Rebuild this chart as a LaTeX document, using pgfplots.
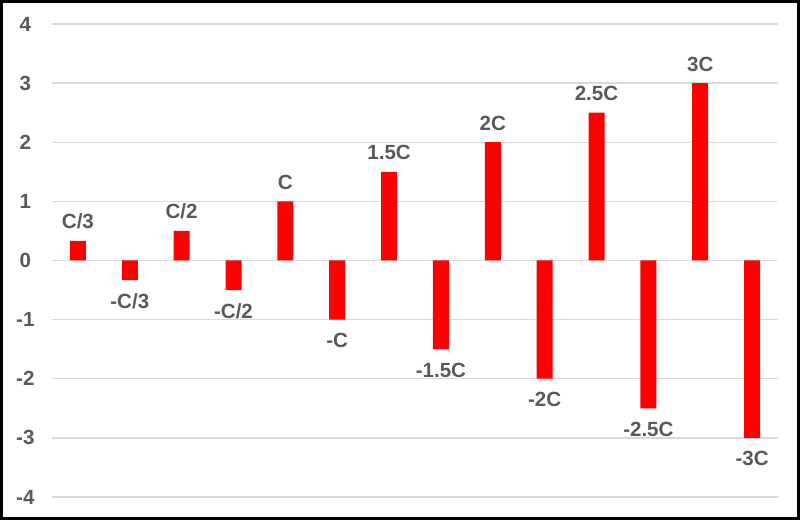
\documentclass[border=0pt]{standalone}
\usepackage{pgfplots}
\pgfplotsset{compat=1.18}
\usepackage{pgfplotstable}
\usepackage{fontspec}
\setmainfont{Liberation Sans}
\definecolor{txt}{HTML}{595959}
\definecolor{gridc}{HTML}{D9D9D9}
\definecolor{barred}{HTML}{FF0000}
\pgfplotstableread{
x y lab
0 0.3333 C/3
2 0.5 C/2
4 1 C
6 1.5 1.5C
8 2 2C
10 2.5 2.5C
12 3 3C
}\postab
\pgfplotstableread{
x y lab
1 -0.3333 -C/3
3 -0.5 -C/2
5 -1 -C
7 -1.5 -1.5C
9 -2 -2C
11 -2.5 -2.5C
13 -3 -3C
}\negtab
\begin{document}
\begin{tikzpicture}
\useasboundingbox (0pt,0pt) rectangle (600pt,390pt);
\draw[line width=2.25pt, black] (1.125pt,1.125pt) rectangle (598.875pt,388.875pt);
\begin{axis}[
  at={(39pt,17.25pt)}, anchor=south west,
  scale only axis, width=544.5pt, height=354.75pt,
  xmin=-0.5, xmax=13.5, ymin=-4, ymax=4,
  ytick={-4,-3,-2,-1,0,1,2,3,4},
  yticklabels={-4,-3,-2,-1,0,1,2,3,4},
  xtick=\empty,
  ymajorgrids, major grid style={gridc, line width=1.1pt},
  axis line style={draw=none},
  major tick length=0pt,
  yticklabel style={font=\fontsize{15.4}{18}\selectfont\bfseries, text=txt, inner sep=0pt, anchor=center, xshift=-20pt},
  ybar, bar width=12pt, bar shift=0pt,
  point meta=explicit symbolic,
  nodes near coords,
  clip=false,
]
\addplot[fill=barred, draw=none,
  every node near coord/.style={font=\fontsize{15.4}{18}\selectfont\bfseries, text=txt, anchor=base, inner sep=0pt, yshift=9pt}]
  table[x=x, y=y, meta=lab] {\postab};
\addplot[fill=barred, draw=none,
  every node near coord/.style={font=\fontsize{15.4}{18}\selectfont\bfseries, text=txt, anchor=base, inner sep=0pt, yshift=-21pt}]
  table[x=x, y=y, meta=lab] {\negtab};
\end{axis}
\end{tikzpicture}
\end{document}
